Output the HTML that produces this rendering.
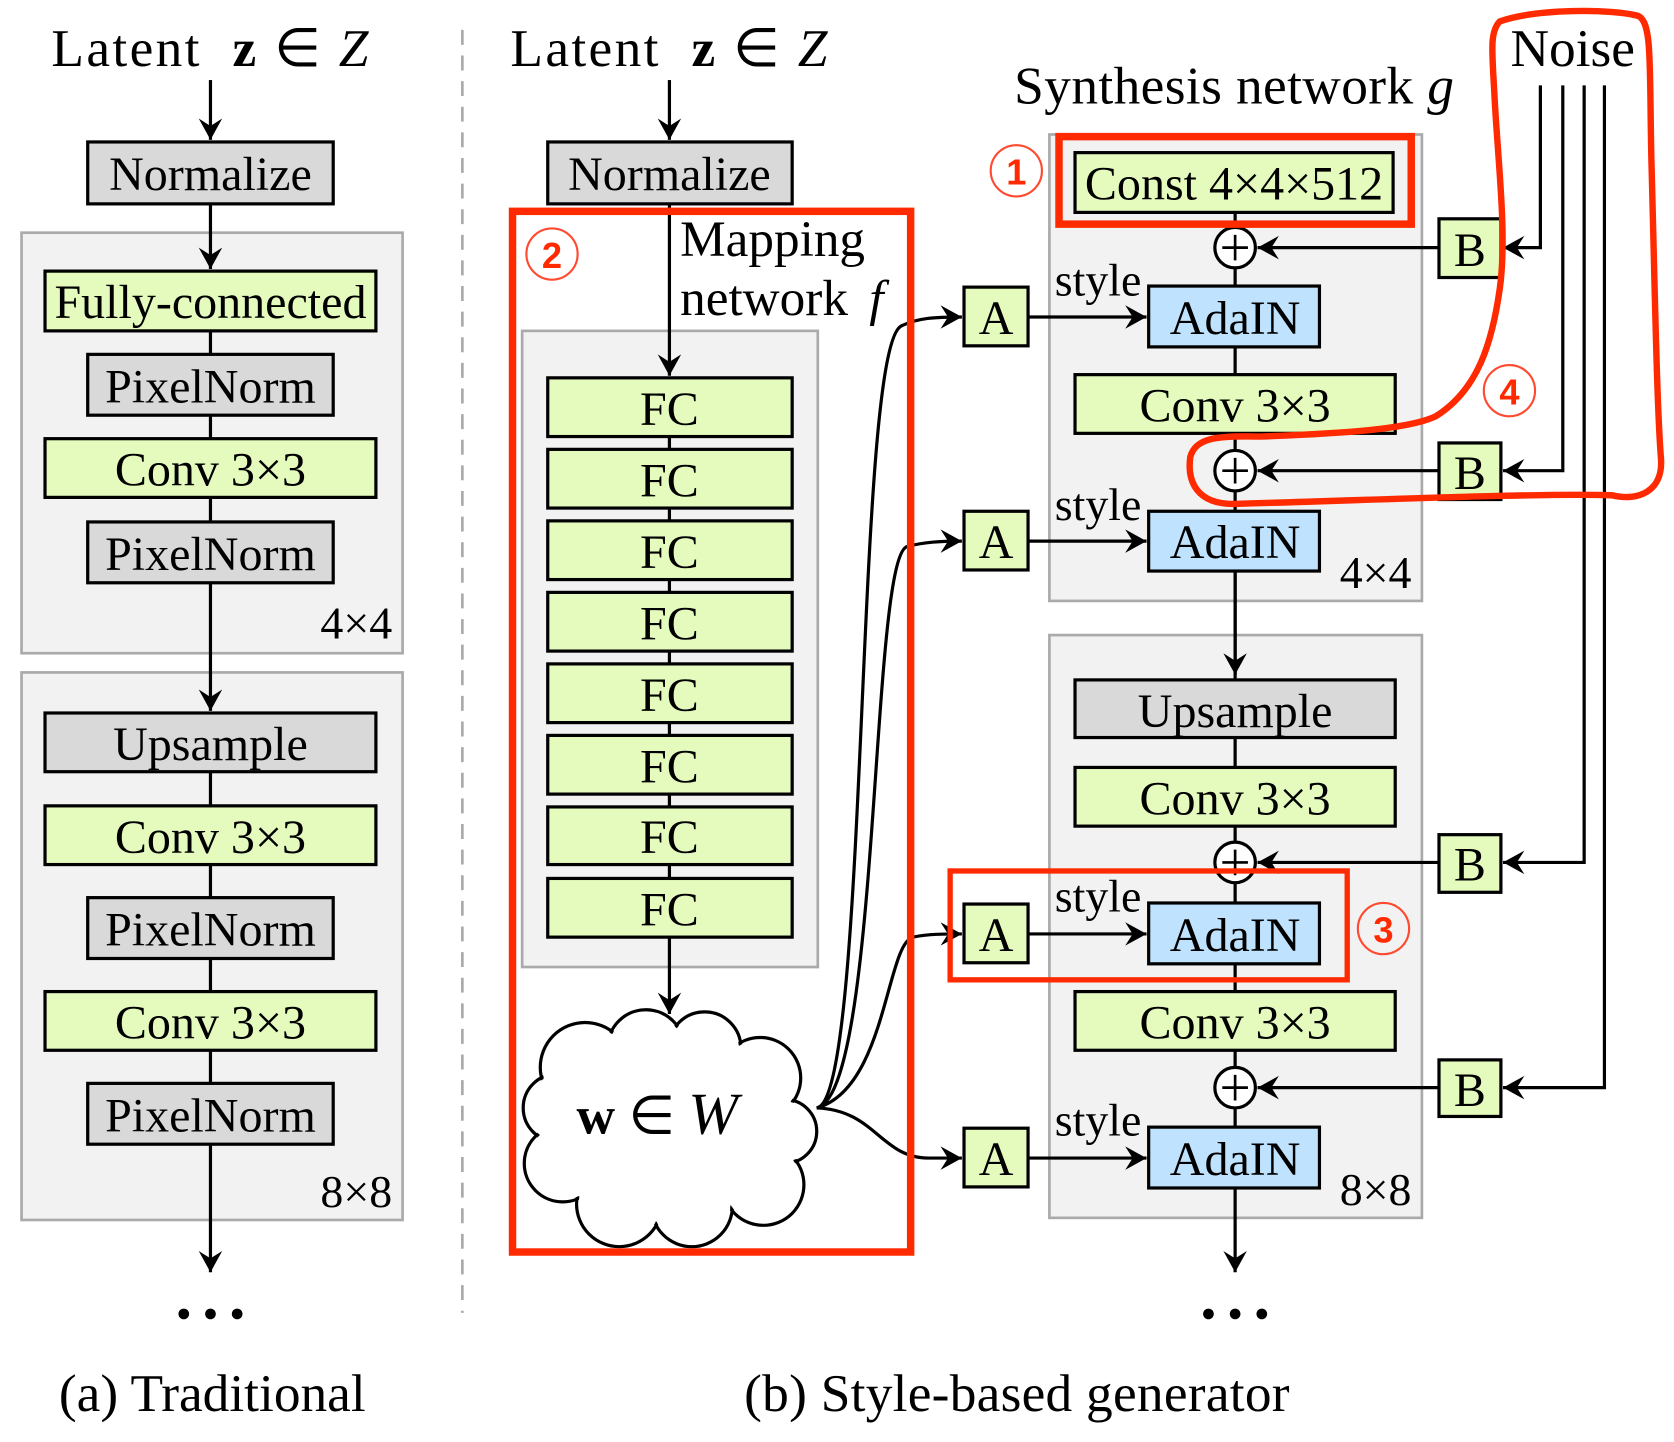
<!DOCTYPE html>
<html><head><meta charset="utf-8"><style>
html,body{margin:0;padding:0;background:#fff}
svg{display:block}
text{font-family:"Liberation Serif",serif}
.rd{fill:#ff2a00;font-family:"Liberation Sans",sans-serif}
</style></head><body>
<svg width="1674" height="1442" viewBox="0 0 1568 1351" xmlns="http://www.w3.org/2000/svg">
<defs>
<marker id="ah" viewBox="-22 -12 24 24" markerWidth="24" markerHeight="24" refX="0" refY="0" orient="auto" markerUnits="userSpaceOnUse">
<path d="M0,0 L-20,-11 L-13,0 L-20,11 Z" fill="#000"/>
</marker>
</defs>
<g stroke="#000" stroke-width="3" fill="none">
<rect x="20" y="218" width="357" height="394" fill="#f2f2f2" stroke="#aaa" stroke-width="2.5"/>
<rect x="20" y="630" width="357" height="513" fill="#f2f2f2" stroke="#aaa" stroke-width="2.5"/>
<line x1="197" y1="75" x2="197" y2="131" marker-end="url(#ah)"/>
<line x1="197" y1="191" x2="197" y2="252" marker-end="url(#ah)"/>
<line x1="197" y1="310" x2="197" y2="489"/>
<line x1="197" y1="546" x2="197" y2="666" marker-end="url(#ah)"/>
<line x1="197" y1="723" x2="197" y2="1015"/>
<line x1="197" y1="1072" x2="197" y2="1192" marker-end="url(#ah)"/>
<rect x="82" y="133" width="230" height="58" fill="#d9d9d9"/>
<rect x="42" y="254" width="310" height="56" fill="#e4fbbd"/>
<rect x="82" y="332" width="230" height="57" fill="#d9d9d9"/>
<rect x="42" y="411" width="310" height="55" fill="#e4fbbd"/>
<rect x="82" y="489" width="230" height="57" fill="#d9d9d9"/>
<rect x="42" y="668" width="310" height="55" fill="#d9d9d9"/>
<rect x="42" y="755" width="310" height="55" fill="#e4fbbd"/>
<rect x="82" y="841" width="230" height="57" fill="#d9d9d9"/>
<rect x="42" y="929" width="310" height="55" fill="#e4fbbd"/>
<rect x="82" y="1015" width="230" height="57" fill="#d9d9d9"/>
<line x1="433" y1="28" x2="433" y2="1230" stroke="#aaa" stroke-width="2.5" stroke-dasharray="14,10"/>

<rect x="489" y="310" width="277" height="596" fill="#f2f2f2" stroke="#aaa" stroke-width="2.5"/>
<line x1="627" y1="75" x2="627" y2="131" marker-end="url(#ah)"/>
<line x1="627" y1="191" x2="627" y2="352" marker-end="url(#ah)"/>
<line x1="627" y1="409" x2="627" y2="823"/>
<line x1="627" y1="878" x2="627" y2="950" marker-end="url(#ah)"/>
<rect x="513" y="133" width="229" height="58" fill="#d9d9d9"/>
<g fill="#e4fbbd">
<rect x="513" y="354" width="229" height="55"/><rect x="513" y="421" width="229" height="55"/>
<rect x="513" y="488" width="229" height="55"/><rect x="513" y="555" width="229" height="55"/>
<rect x="513" y="622" width="229" height="55"/><rect x="513" y="689" width="229" height="55"/>
<rect x="513" y="756" width="229" height="54"/><rect x="513" y="823" width="229" height="55"/>
</g>
<g>
<circle cx="548" cy="1000" r="42"/><circle cx="605" cy="982" r="36"/><circle cx="660" cy="982" r="34"/>
<circle cx="712" cy="1010" r="38"/><circle cx="735" cy="1060" r="30"/><circle cx="715" cy="1110" r="38"/>
<circle cx="648" cy="1130" r="38"/><circle cx="580" cy="1128" r="40"/><circle cx="527" cy="1090" r="36"/>
<circle cx="522" cy="1038" r="32"/>
</g>
<g fill="#fff" stroke="none">
<circle cx="548" cy="1000" r="40"/><circle cx="605" cy="982" r="34"/><circle cx="660" cy="982" r="32"/>
<circle cx="712" cy="1010" r="36"/><circle cx="735" cy="1060" r="28"/><circle cx="715" cy="1110" r="36"/>
<circle cx="648" cy="1130" r="36"/><circle cx="580" cy="1128" r="38"/><circle cx="527" cy="1090" r="34"/>
<circle cx="522" cy="1038" r="30"/><ellipse cx="627" cy="1055" rx="110" ry="85"/>
</g>
<path d="M765,1038 C815,1030 800,320 845,305 C860,298 875,297 901,297" marker-end="url(#ah)"/>
<path d="M765,1038 C825,1025 815,520 850,512 C865,508 880,507 901,507" marker-end="url(#ah)"/>
<path d="M765,1038 C830,1020 830,885 855,878 C870,875 885,875 901,875" marker-end="url(#ah)"/>
<path d="M765,1038 C820,1040 825,1085 870,1085 L901,1085" marker-end="url(#ah)"/>

<rect x="983" y="126" width="349" height="437" fill="#f2f2f2" stroke="#aaa" stroke-width="2.5"/>
<rect x="983" y="595" width="349" height="546" fill="#f2f2f2" stroke="#aaa" stroke-width="2.5"/>
<line x1="1157" y1="199" x2="1157" y2="1113"/>
<line x1="1157" y1="535" x2="1157" y2="632" marker-end="url(#ah)"/>
<line x1="1157" y1="1113" x2="1157" y2="1192" marker-end="url(#ah)"/>
<rect x="1007" y="143" width="298" height="56" fill="#e4fbbd"/>
<rect x="1076" y="268" width="160" height="57" fill="#bfe3ff"/>
<rect x="1007" y="351" width="300" height="55" fill="#e4fbbd"/>
<rect x="1076" y="479" width="160" height="56" fill="#bfe3ff"/>
<rect x="1007" y="637" width="300" height="54" fill="#d9d9d9"/>
<rect x="1007" y="719" width="300" height="55" fill="#e4fbbd"/>
<rect x="1076" y="846" width="160" height="57" fill="#bfe3ff"/>
<rect x="1007" y="929" width="300" height="55" fill="#e4fbbd"/>
<rect x="1076" y="1056" width="160" height="57" fill="#bfe3ff"/>
<g fill="#e4fbbd">
<rect x="903" y="269" width="60" height="55"/><rect x="903" y="479" width="60" height="55"/>
<rect x="903" y="847" width="60" height="55"/><rect x="903" y="1057" width="60" height="55"/>
<rect x="1348" y="205" width="58" height="55"/><rect x="1348" y="415" width="58" height="53"/>
<rect x="1348" y="782" width="58" height="54"/><rect x="1348" y="993" width="58" height="53"/>
</g>
<line x1="963" y1="297" x2="1074" y2="297" marker-end="url(#ah)"/>
<line x1="963" y1="507" x2="1074" y2="507" marker-end="url(#ah)"/>
<line x1="963" y1="875" x2="1074" y2="875" marker-end="url(#ah)"/>
<line x1="963" y1="1085" x2="1074" y2="1085" marker-end="url(#ah)"/>
<line x1="1348" y1="232" x2="1178" y2="232" marker-end="url(#ah)"/>
<line x1="1348" y1="441" x2="1178" y2="441" marker-end="url(#ah)"/>
<line x1="1348" y1="808" x2="1178" y2="808" marker-end="url(#ah)"/>
<line x1="1348" y1="1019" x2="1178" y2="1019" marker-end="url(#ah)"/>
<g fill="#fff">
<circle cx="1157" cy="232" r="19"/><circle cx="1157" cy="441" r="19"/>
<circle cx="1157" cy="808" r="19"/><circle cx="1157" cy="1019" r="19"/>
</g>
<g stroke-width="2.5">
<path d="M1145,232h24M1157,220v24M1145,441h24M1157,429v24M1145,808h24M1157,796v24M1145,1019h24M1157,1007v24"/>
</g>
<path d="M1443,80 V232 H1408" marker-end="url(#ah)"/>
<path d="M1464,80 V441 H1408" marker-end="url(#ah)"/>
<path d="M1484,80 V808 H1408" marker-end="url(#ah)"/>
<path d="M1503,80 V1019 H1408" marker-end="url(#ah)"/>
</g>

<g fill="none" stroke="#ff2a00">
<rect x="480" y="198" width="373" height="975" stroke-width="7"/>
<rect x="992" y="128" width="330" height="82" stroke-width="7"/>
<rect x="890" y="816" width="372" height="102" stroke-width="5"/>
<path d="M1405,20 C1440,8 1510,8 1535,15 C1548,22 1545,60 1547,150 C1550,260 1552,380 1556,430 C1558,460 1535,470 1510,464 C1440,462 1300,468 1160,472 C1120,474 1112,450 1115,428 C1120,410 1140,408 1180,409 C1260,406 1320,402 1345,390 C1385,365 1398,320 1405,270 C1412,220 1403,150 1400,90 C1398,50 1395,30 1405,20 Z" stroke-width="6" stroke-linejoin="round"/>
<g stroke-width="2" stroke="#ff4a30"><circle cx="517" cy="238" r="24"/><circle cx="952" cy="160" r="24"/><circle cx="1296" cy="870" r="24"/><circle cx="1414" cy="366" r="24"/></g>
</g>
<g font-size="34" text-anchor="middle" font-weight="bold">
<text class="rd" x="517" y="251">2</text>
<text class="rd" x="952" y="173">1</text>
<text class="rd" x="1296" y="883">3</text>
<text class="rd" x="1414" y="379">4</text>
</g>

<g font-size="50">
<text x="48" y="62" textLength="297">Latent <tspan font-weight="bold" dx="14">z</tspan> ∈ <tspan font-style="italic">Z</tspan></text>
<text x="478" y="62" textLength="297">Latent <tspan font-weight="bold" dx="14">z</tspan> ∈ <tspan font-style="italic">Z</tspan></text>
<text x="950" y="97" textLength="412">Synthesis network <tspan font-style="italic">g</tspan></text>
<text x="1415" y="62">Noise</text>
<text x="637" y="240" font-size="48">Mapping</text>
<text x="637" y="295" font-size="48">network <tspan font-style="italic" dx="8">f</tspan></text>
<text x="55" y="1322">(a) Traditional</text>
<text x="697" y="1322" textLength="511">(b) Style-based generator</text>
</g>
<g font-size="45" text-anchor="middle">
<text x="197" y="178">Normalize</text>
<text x="197" y="298">Fully-connected</text>
<text x="197" y="377">PixelNorm</text>
<text x="197" y="455">Conv 3×3</text>
<text x="197" y="534">PixelNorm</text>
<text x="197" y="712">Upsample</text>
<text x="197" y="799">Conv 3×3</text>
<text x="197" y="886">PixelNorm</text>
<text x="197" y="973">Conv 3×3</text>
<text x="197" y="1060">PixelNorm</text>
<text x="627" y="178">Normalize</text>
<text x="627" y="398">FC</text><text x="627" y="465">FC</text><text x="627" y="532">FC</text><text x="627" y="599">FC</text>
<text x="627" y="666">FC</text><text x="627" y="733">FC</text><text x="627" y="799">FC</text><text x="627" y="867">FC</text>
<text x="1156" y="187">Const 4×4×512</text>
<text x="1157" y="313">AdaIN</text>
<text x="1157" y="395">Conv 3×3</text>
<text x="1157" y="523">AdaIN</text>
<text x="1157" y="681">Upsample</text>
<text x="1157" y="763">Conv 3×3</text>
<text x="1157" y="891">AdaIN</text>
<text x="1157" y="973">Conv 3×3</text>
<text x="1157" y="1101">AdaIN</text>
<text x="933" y="313">A</text><text x="933" y="523">A</text><text x="933" y="891">A</text><text x="933" y="1101">A</text>
<text x="1377" y="249">B</text><text x="1377" y="458">B</text><text x="1377" y="825">B</text><text x="1377" y="1036">B</text>
</g>
<g font-size="43">
<text x="300" y="598">4×4</text><text x="300" y="1131">8×8</text>
<text x="1255" y="551">4×4</text><text x="1255" y="1129">8×8</text>
<text x="988" y="277">style</text><text x="988" y="487">style</text><text x="988" y="854">style</text><text x="988" y="1064">style</text>
</g>
<text x="540" y="1062" font-size="50"><tspan font-weight="bold">w</tspan> ∈ <tspan font-style="italic" font-size="56">W</tspan></text>
<g fill="#000"><circle cx="172" cy="1231" r="5"/><circle cx="197" cy="1231" r="5"/><circle cx="222" cy="1231" r="5"/>
<circle cx="1132" cy="1231" r="5"/><circle cx="1157" cy="1231" r="5"/><circle cx="1182" cy="1231" r="5"/></g>
</svg>
</body></html>
